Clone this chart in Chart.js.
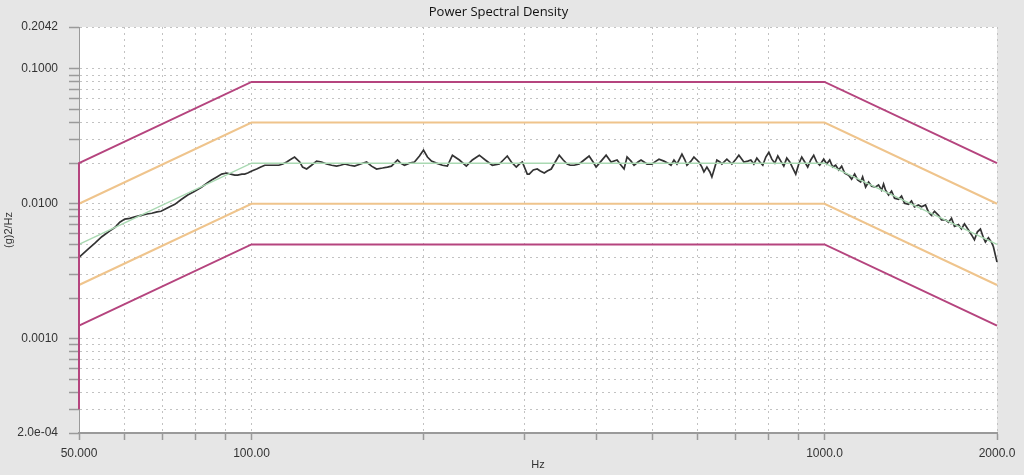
<!DOCTYPE html>
<html><head><meta charset="utf-8">
<script src="https://cdn.jsdelivr.net/npm/chart.js@4/dist/chart.umd.min.js"></script>
<style>html,body{margin:0;padding:0;background:#e6e6e6;overflow:hidden}#wrap{width:1024px;height:475px}</style>
</head><body><div id="wrap"><canvas id="c" width="1024" height="475"></canvas></div>
<script>
// Measured PSD (black)
const measFreq = [50.0,51.8,53.3,54.8,56.6,57.8,58.9,60.1,61.3,62.6,64.1,65.7,67.0,68.4,69.5,70.6,72.0,73.5,75.3,77.4,79.6,81.9,83.6,85.2,87.0,88.7,90.5,92.0,93.5,94.6,96.2,97.3,98.5,100.1,102.1,103.8,105.5,107.6,109.8,111.6,113.4,115.2,116.6,118.9,121.4,122.8,124.8,
127.3,129.9,132.5,135.2,138.0,140.8,143.0,145.4,148.3,151.3,155.0,158.8,162.0,165.3,169.3,172.7,175.5,179.8,182.0,184.9,188.7,192.5,196.4,199.6,202.8,206.1,210.2,215.4,219.7,224.2,230.6,237.1,242.9,249.8,255.9,263.2,270.7,275.1,279.5,284.1,289.8,293.3,296.9,302.9,
305.3,310.3,315.3,319.1,324.3,328.2,333.5,338.9,344.4,350.0,355.6,359.8,365.7,373.1,380.6,388.3,394.6,399.4,407.5,415.8,424.2,434.5,441.5,446.9,452.3,459.6,465.2,472.7,478.4,484.2,490.1,500.0,508.1,514.2,524.6,533.1,539.6,546.1,552.7,559.4,563.9,570.8,575.3,584.7,591.7,598.9,603.7,611.0,616.0,623.4,630.9,636.0,643.7,648.9,656.8,662.1,670.1,675.5,683.7,689.2,700.3,708.8,717.4,723.2,734.9,743.8,
752.8,761.9,771.1,780.4,789.9,799.5,809.2,819.0,828.9,838.9,849.1,859.3,869.7,880.3,890.9,901.7,912.6,923.7,934.8,946.2,957.6,969.2,980.9,996.8,
1008.9,1021.1,1033.4,1045.9,1058.6,1071.4,1084.3,1101.9,1115.2,1128.7,1142.4,1156.2,1165.5,1179.6,1193.9,1208.4,1227.9,1242.7,1257.8,1267.9,1278.1,1293.6,1309.2,1325.1,1346.5,1362.8,1379.3,1401.6,1418.5,1435.7,1458.9,1476.6,1500.5,1518.6,1537.0,1555.6,1581.1,1600.3,1626.2,1645.8,1665.8,1685.9,1713.2,1733.9,1754.9,1783.3,1804.8,1826.7,1848.8,1871.2,1893.8,1909.0,1932.2,1955.6,1971.3,2000];
const measPsd = [0.0040,0.0046,0.0051,0.0057,0.0063,0.0067,0.0073,0.0077,0.0078,0.0080,0.0082,0.0084,0.0085,0.0087,0.0088,0.0091,0.0095,0.0099,0.0107,0.0116,0.0124,0.0133,0.0142,0.0150,0.0158,0.0166,0.0169,0.0166,0.0163,0.0163,0.0166,0.0166,0.0169,0.0175,0.0181,0.0187,0.0193,0.0193,0.0193,0.0193,0.0197,0.0204,0.0211,0.0222,0.0204,0.0187,0.0181,
0.0193,0.0207,0.0204,0.0197,0.0193,0.0190,0.0193,0.0197,0.0193,0.0190,0.0197,0.0204,0.0190,0.0181,0.0184,0.0187,0.0190,0.0211,0.0200,0.0193,0.0200,0.0204,0.0226,0.0250,0.0222,0.0207,0.0200,0.0193,0.0190,0.0229,0.0211,0.0190,0.0211,0.0229,0.0211,0.0193,0.0197,0.0211,0.0226,0.0204,0.0187,0.0197,0.0204,0.0166,
0.0166,0.0178,0.0181,0.0175,0.0169,0.0175,0.0181,0.0204,0.0229,0.0211,0.0197,0.0193,0.0193,0.0197,0.0211,0.0226,0.0204,0.0187,0.0207,0.0229,0.0204,0.0211,0.0193,0.0181,0.0222,0.0207,0.0193,0.0204,0.0211,0.0204,0.0197,0.0197,0.0207,0.0214,0.0207,0.0200,0.0193,0.0211,0.0197,0.0218,0.0233,0.0211,0.0193,0.0207,0.0222,0.0211,0.0204,0.0187,0.0172,0.0187,0.0172,0.0158,0.0187,0.0211,0.0204,0.0197,0.0207,0.0214,0.0204,0.0197,0.0214,0.0229,0.0214,0.0204,0.0207,0.0211,
0.0197,0.0218,0.0204,0.0193,0.0222,0.0241,0.0214,0.0200,0.0226,0.0207,0.0190,0.0218,0.0204,0.0184,0.0166,0.0197,0.0222,0.0204,0.0187,0.0211,0.0229,0.0204,0.0193,0.0214,
0.0197,0.0211,0.0187,0.0193,0.0178,0.0190,0.0169,0.0163,0.0152,0.0166,0.0150,0.0145,0.0158,0.0133,0.0145,0.0135,0.0133,0.0138,0.0126,0.0140,0.0126,0.0116,0.0124,0.0110,0.0108,0.0114,0.0101,0.0099,0.0105,0.0095,0.0098,0.0095,0.0098,0.0087,0.0082,0.0088,0.0082,0.0076,0.0076,0.0073,0.0078,0.0068,0.0070,0.0065,0.0071,0.0064,0.0059,0.0054,0.0062,0.0065,0.0056,0.0052,0.0056,0.0052,0.0048,0.0037];

// Reference profile (green)
const refFreq = [50, 100, 1000, 2000];
const refPsd = [0.005, 0.02, 0.02, 0.005];
// Alarm limits (tan)
const alarmHighFreq = [50, 100, 1000, 2000];
const alarmHigh = [0.01, 0.04, 0.04, 0.01];
const alarmLowFreq = [50, 50, 100, 1000, 2000];
const alarmLow = [0.0012, 0.0025, 0.01, 0.01, 0.0025];
// Abort limits (magenta)
const abortHighFreq = [50, 50, 100, 1000, 2000];
const abortHigh = [0.0003, 0.02, 0.08, 0.08, 0.02];
const abortLowFreq = [50, 100, 1000, 2000];
const abortLow = [0.00125, 0.005, 0.005, 0.00125];

// Axis ticks
const xTicks = [50,60,70,80,90,100,200,300,400,500,600,700,800,900,1000,2000];
const xTickLabels = {50:'50.000', 100:'100.00', 1000:'1000.0', 2000:'2000.0'};
const yTicks = [0.0002,0.0003,0.0004,0.0005,0.0006,0.0007,0.0008,0.0009,0.001,0.002,0.003,0.004,0.005,0.006,0.007,0.008,0.009,0.01,0.02,0.03,0.04,0.05,0.06,0.07,0.08,0.09,0.1,0.2042];
const yTickLabels = {'0.0002':'2.0e-04','0.001':'0.0010','0.01':'0.0100','0.1':'0.1000','0.2042':'0.2042'};

const pts = (xs, ys) => xs.map((x, i) => ({x: x, y: ys[i]}));
const findLabel = (map, v) => {
  for (const k in map) { if (Math.abs(parseFloat(k) - v) / v < 1e-6) return map[k]; }
  return '';
};

const plotBg = {
  id: 'plotBg',
  beforeDraw(chart) {
    const {ctx, chartArea: a} = chart;
    ctx.save();
    ctx.fillStyle = '#e6e6e6';
    ctx.fillRect(0, 0, chart.width, chart.height);
    ctx.fillStyle = '#ffffff';
    ctx.fillRect(a.left, a.top, a.right - a.left, a.bottom - a.top);
    ctx.restore();
  }
};

Chart.defaults.font.family = "'Liberation Sans', Arial, sans-serif";
Chart.defaults.color = '#333';

const line = (data, color, w) => ({data, borderColor: color, borderWidth: w, pointRadius: 0, tension: 0, fill: false, clip: 6});

new Chart(document.getElementById('c'), {
  type: 'line',
  data: {
    datasets: [
      line(pts(abortHighFreq, abortHigh), '#b5447e', 2),
      line(pts(abortLowFreq, abortLow), '#b5447e', 2),
      line(pts(alarmHighFreq, alarmHigh), '#efc48c', 2),
      line(pts(alarmLowFreq, alarmLow), '#efc48c', 2),
      line(pts(refFreq, refPsd), '#a9d9b2', 1.5),
      line(pts(measFreq, measPsd), '#333333', 1.7)
    ]
  },
  options: {
    responsive: false,
    animation: false,
    devicePixelRatio: 1,
    layout: {padding: {left: 0, right: 27, top: 0, bottom: 0}},
    plugins: {
      legend: {display: false},
      tooltip: {enabled: false},
      title: {display: true, text: 'Power Spectral Density', color: '#111',
        font: {family: "'Open Sans', sans-serif", size: 13, weight: 'normal'},
        padding: {top: 4, bottom: 7.4}}
    },
    scales: {
      x: {
        type: 'logarithmic', position: 'bottom', min: 50, max: 2000,
        afterBuildTicks: s => { s.ticks = xTicks.map(v => ({value: v})); },
        afterFit: s => { s.height = 42; },
        ticks: {autoSkip: false, maxRotation: 0, minRotation: 0, padding: 6, color: '#333',
          font: {size: 12}, callback: v => findLabel(xTickLabels, v)},
        grid: {color: c => (c.tick && c.tick.value === 50) ? 'rgba(0,0,0,0)' : '#c2c2c2',
          lineWidth: 1, tickLength: 7, tickColor: '#9a9a9a', tickWidth: 1.5},
        border: {display: true, color: '#9a9a9a', width: 2, dash: [2, 4]},
        title: {display: true, text: 'Hz', color: '#333', font: {size: 11}, padding: {top: 0, bottom: 3}}
      },
      y: {
        type: 'logarithmic', position: 'left', min: 0.0002, max: 0.2042,
        afterBuildTicks: s => { s.ticks = yTicks.map(v => ({value: v})); },
        afterFit: s => { s.width = 79; },
        ticks: {autoSkip: false, padding: 11, color: '#333', font: {size: 12},
          callback: v => findLabel(yTickLabels, v)},
        grid: {color: c => (c.tick && c.tick.value === 0.0002) ? 'rgba(0,0,0,0)' : '#c2c2c2',
          lineWidth: 1, tickLength: 10, tickColor: '#9a9a9a', tickWidth: 1.5},
        border: {display: true, color: '#9a9a9a', width: 1, dash: [2, 4]},
        title: {display: true, text: '(g)2/Hz', color: '#333', font: {size: 11}, padding: {top: 2, bottom: 0}}
      }
    }
  },
  plugins: [plotBg]
});
</script>
</body></html>
